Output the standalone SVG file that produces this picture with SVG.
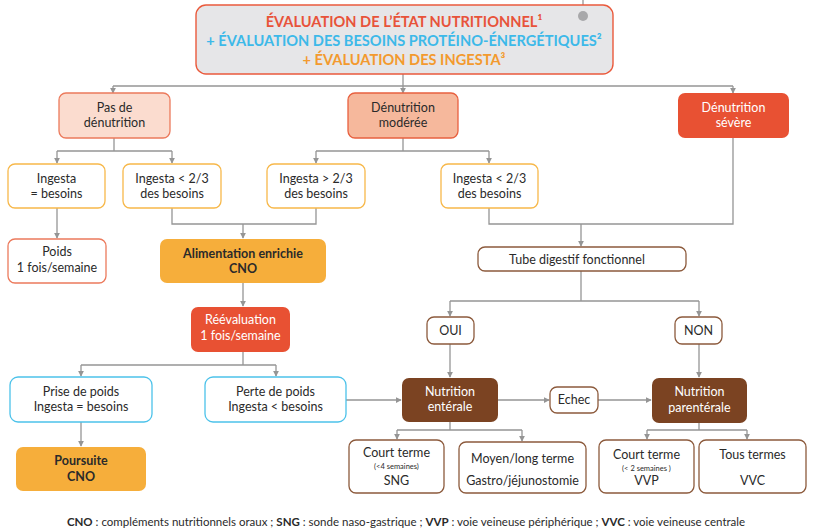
<svg xmlns="http://www.w3.org/2000/svg" width="816" height="532" viewBox="0 0 816 532">
<defs>
<marker id="ah" viewBox="0 0 8 8" refX="7" refY="4" markerWidth="6" markerHeight="6" orient="auto" markerUnits="userSpaceOnUse">
<path d="M0,0 L8,4 L0,8 z" fill="#959595"/>
</marker>
<style>
text{font-family:Lato,"Noto Sans","Liberation Sans",sans-serif;font-size:12.5px;fill:#2a2a2a;text-anchor:middle}
.w{fill:#ffffff}
.b{font-weight:bold}
.sm{font-size:7.5px}
.t{font-size:14.6px;font-weight:bold}
.c{fill:none;stroke:#959595;stroke-width:1.3}
.ca{fill:none;stroke:#959595;stroke-width:1.3;marker-end:url(#ah)}
.yel{fill:#ffffff;stroke:#f7b84a;stroke-width:1.3}
.red{fill:#ffffff;stroke:#ec7a5c;stroke-width:1.3}
.blu{fill:#ffffff;stroke:#4cc2ea;stroke-width:1.3}
.brn{fill:#ffffff;stroke:#8c5a3c;stroke-width:1.3}
.brf{fill:#7b4322}
.org{fill:#f6ae3b}
.sev{fill:#e85133}
</style>
</defs>
<rect width="816" height="532" fill="#ffffff"/>

<g id="connectors">
<line class="c" x1="583" y1="0" x2="583" y2="16"/>
<polyline class="c" points="403,74 403,86"/>
<polyline class="c" points="113,86 733,86"/>
<line class="ca" x1="113" y1="86" x2="113" y2="93"/>
<line class="ca" x1="403" y1="86" x2="403" y2="93"/>
<line class="ca" x1="733" y1="86" x2="733" y2="93"/>
<polyline class="c" points="114,138 114,151"/>
<polyline class="c" points="57,151 172,151"/>
<line class="ca" x1="57" y1="151" x2="57" y2="163"/>
<line class="ca" x1="172" y1="151" x2="172" y2="163"/>
<polyline class="c" points="403,138 403,151"/>
<polyline class="c" points="316,151 489,151"/>
<line class="ca" x1="316" y1="151" x2="316" y2="163"/>
<line class="ca" x1="489" y1="151" x2="489" y2="163"/>
<line class="ca" x1="57" y1="208" x2="57" y2="238"/>
<polyline class="c" points="172,208 172,224 316,224 316,208"/>
<line class="ca" x1="243" y1="224" x2="243" y2="238"/>
<polyline class="c" points="489,208 489,224 733,224 733,138"/>
<line class="ca" x1="581" y1="224" x2="581" y2="246"/>
<line class="ca" x1="243" y1="283" x2="243" y2="306"/>
<polyline class="c" points="243,352 243,365"/>
<polyline class="c" points="81,365 276,365"/>
<line class="ca" x1="81" y1="365" x2="81" y2="376"/>
<line class="ca" x1="276" y1="365" x2="276" y2="376"/>
<line class="ca" x1="81" y1="422" x2="81" y2="446"/>
<line class="ca" x1="346" y1="400" x2="401" y2="400"/>
<polyline class="c" points="581,271 581,301"/>
<polyline class="c" points="450,301 699,301"/>
<line class="ca" x1="450" y1="301" x2="450" y2="316"/>
<line class="ca" x1="699" y1="301" x2="699" y2="316"/>
<line class="ca" x1="450" y1="344" x2="450" y2="377"/>
<line class="ca" x1="699" y1="344" x2="699" y2="377"/>
<line class="ca" x1="498" y1="400" x2="549" y2="400"/>
<line class="ca" x1="598" y1="400" x2="651" y2="400"/>
<polyline class="c" points="450,422 450,430"/>
<polyline class="c" points="397,430 522,430"/>
<line class="ca" x1="397" y1="430" x2="397" y2="439"/>
<line class="ca" x1="522" y1="430" x2="522" y2="441"/>
<polyline class="c" points="699,423 699,430"/>
<polyline class="c" points="647,430 747,430"/>
<line class="ca" x1="647" y1="430" x2="647" y2="439"/>
<line class="ca" x1="747" y1="430" x2="747" y2="439"/>
</g>

<g id="title">
<rect x="196" y="5" width="417" height="69" rx="10" fill="#e6e6e8" stroke="#ea5a3c" stroke-width="1.4"/>
<circle cx="583" cy="16" r="5" fill="#a8a8aa"/>
<text class="t" x="404" y="27" style="fill:#e8533a">ÉVALUATION DE L’ÉTAT NUTRITIONNEL¹</text>
<text class="t" x="404" y="46" style="fill:#3db9e9">+ ÉVALUATION DES BESOINS PROTÉINO-ÉNERGÉTIQUES²</text>
<text class="t" x="404" y="64.5" style="fill:#f39a2e">+ ÉVALUATION DES INGESTA³</text>
</g>

<g id="pas-denutrition">
<rect x="59" y="93" width="111" height="45" rx="7" fill="#fbdccf" stroke="#ec7a5c" stroke-width="1.3"/>
<text x="114.5" y="112">Pas de</text>
<text x="114.5" y="127">dénutrition</text>
</g>
<g id="denutrition-moderee">
<rect x="348" y="93" width="110" height="45" rx="7" fill="#f6b89c" stroke="#e8603f" stroke-width="1.3"/>
<text x="403" y="112">Dénutrition</text>
<text x="403" y="127">modérée</text>
</g>
<g id="denutrition-severe">
<rect x="678" y="93" width="111" height="45" rx="7" class="sev"/>
<text class="w" x="733.5" y="112">Dénutrition</text>
<text class="w" x="733.5" y="127">sévère</text>
</g>

<g id="ingesta-egal">
<rect x="8" y="164" width="97" height="44" rx="7" class="yel"/>
<text x="56.5" y="183">Ingesta</text>
<text x="56.5" y="198">= besoins</text>
</g>
<g id="ingesta-inf-1">
<rect x="123" y="164" width="98" height="44" rx="7" class="yel"/>
<text x="172" y="183">Ingesta &lt; 2/3</text>
<text x="172" y="198">des besoins</text>
</g>
<g id="ingesta-sup">
<rect x="267" y="164" width="98" height="44" rx="7" class="yel"/>
<text x="316" y="183">Ingesta &gt; 2/3</text>
<text x="316" y="198">des besoins</text>
</g>
<g id="ingesta-inf-2">
<rect x="441" y="164" width="97" height="44" rx="7" class="yel"/>
<text x="489.5" y="183">Ingesta &lt; 2/3</text>
<text x="489.5" y="198">des besoins</text>
</g>

<g id="poids">
<rect x="8" y="239" width="98" height="44" rx="7" class="red"/>
<text x="57" y="256">Poids</text>
<text x="57" y="272">1 fois/semaine</text>
</g>
<g id="alimentation">
<rect x="160" y="239" width="166" height="44" rx="7" class="org"/>
<text class="b" x="243" y="258">Alimentation enrichie</text>
<text class="b" x="243" y="273">CNO</text>
</g>
<g id="reevaluation">
<rect x="191" y="307" width="99" height="45" rx="7" class="sev"/>
<text class="w" x="240.5" y="324">Réévaluation</text>
<text class="w" x="240.5" y="340">1 fois/semaine</text>
</g>

<g id="tube">
<rect x="478" y="247" width="208" height="24" rx="7" class="brn"/>
<text x="577" y="263.5">Tube digestif fonctionnel</text>
</g>
<g id="oui">
<rect x="427" y="317" width="47" height="27" rx="7" class="brn"/>
<text x="450.5" y="334.5">OUI</text>
</g>
<g id="non">
<rect x="675" y="317" width="47" height="27" rx="7" class="brn"/>
<text x="698.5" y="334.5">NON</text>
</g>

<g id="prise-poids">
<rect x="10" y="377" width="142" height="45" rx="8" class="blu"/>
<text x="81" y="396">Prise de poids</text>
<text x="81" y="411">Ingesta = besoins</text>
</g>
<g id="perte-poids">
<rect x="205" y="377" width="141" height="45" rx="8" class="blu"/>
<text x="275.5" y="396">Perte de poids</text>
<text x="275.5" y="411">Ingesta &lt; besoins</text>
</g>
<g id="poursuite">
<rect x="16" y="447" width="130" height="44" rx="7" class="org"/>
<text class="b" x="81" y="465">Poursuite</text>
<text class="b" x="81" y="481">CNO</text>
</g>

<g id="nutrition-enterale">
<rect x="402" y="378" width="96" height="44" rx="7" class="brf"/>
<text class="w" x="450" y="396">Nutrition</text>
<text class="w" x="450" y="411">entérale</text>
</g>
<g id="echec">
<rect x="550" y="387" width="48" height="26" rx="7" class="brn"/>
<text x="574" y="404">Echec</text>
</g>
<g id="nutrition-parenterale">
<rect x="652" y="378" width="95" height="45" rx="7" class="brf"/>
<text class="w" x="699.5" y="396">Nutrition</text>
<text class="w" x="699.5" y="412">parentérale</text>
</g>

<g id="court-terme-sng">
<rect x="349" y="440" width="95" height="53" rx="7" class="brn"/>
<text x="396.5" y="457">Court terme</text>
<text class="sm" x="396.5" y="469">(&lt;4 semaines)</text>
<text x="396.5" y="484.5">SNG</text>
</g>
<g id="moyen-long">
<rect x="459" y="442" width="127" height="51" rx="7" class="brn"/>
<text x="522.5" y="463">Moyen/long terme</text>
<text x="522.5" y="484.5">Gastro/jéjunostomie</text>
</g>
<g id="court-terme-vvp">
<rect x="599" y="440" width="95" height="53" rx="7" class="brn"/>
<text x="646.5" y="459">Court terme</text>
<text class="sm" x="646.5" y="471">(&lt; 2 semaines )</text>
<text x="646.5" y="484.5">VVP</text>
</g>
<g id="tous-termes">
<rect x="699" y="440" width="107" height="53" rx="7" class="brn"/>
<text x="752.5" y="459">Tous termes</text>
<text x="752.5" y="484.5">VVC</text>
</g>

<g id="footer">
<text x="406" y="526" style="font-size:11.5px"><tspan class="b">CNO</tspan> : compléments nutritionnels oraux ; <tspan class="b">SNG</tspan> : sonde naso-gastrique ; <tspan class="b">VVP</tspan> : voie veineuse périphérique ; <tspan class="b">VVC</tspan> : voie veineuse centrale</text>
</g>
</svg>
